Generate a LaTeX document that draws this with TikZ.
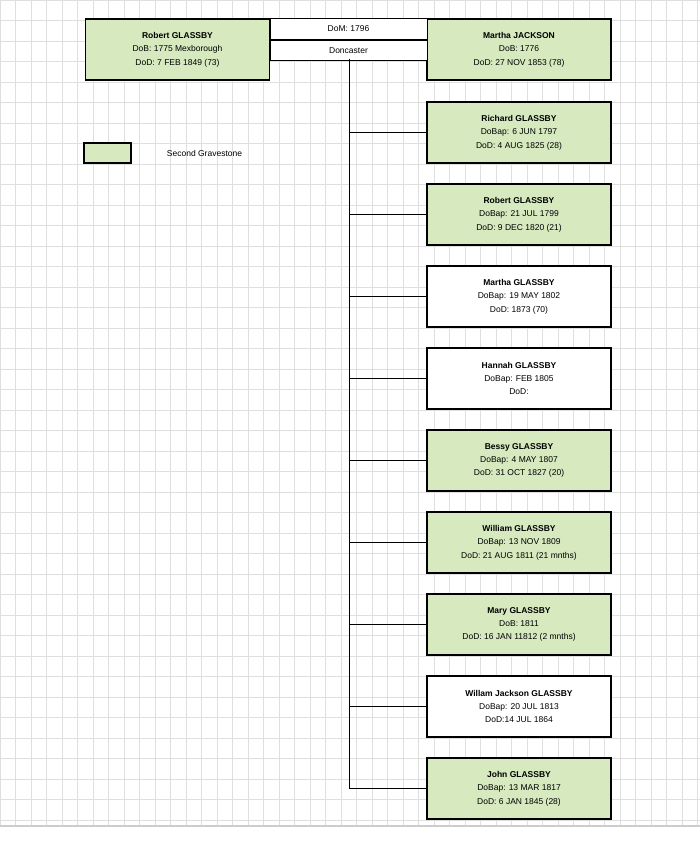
\documentclass[tikz,border=0pt]{standalone}
\usepackage{fontspec}
\setmainfont{Liberation Sans}
\begin{document}
\begin{tikzpicture}[x=1pt,y=-1pt,line width=1.2pt,
  person/.style={draw,minimum width=184pt,minimum height=61pt,inner sep=0pt,font=\fontsize{8.5}{10.3}\selectfont,align=center},
  grave/.style={person,fill=green!30!olive!25!white},
  marr/.style={draw,minimum width=157pt,minimum height=20.5pt,inner sep=0pt,font=\fontsize{8.5}{10}\selectfont}]
\useasboundingbox (0,0) rectangle (700,857);
% grid
\foreach \gx in {0,15.5,...,700} \draw[gray!25,line width=.8pt] (\gx,0) -- (\gx,825);
\foreach \gy in {0,20.5,...,825} \draw[gray!25,line width=.8pt] (0,\gy) -- (700,\gy);
\draw[gray!40,line width=2pt] (0,826) -- (700,826);
% parents
\node[grave] (father) at (177.5,49.5) {\textbf{Robert GLASSBY}\\[3pt]DoB: 1775 Mexborough\\[3pt]DoD: 7 FEB 1849 (73)};
\node[grave] (mother) at (519,49.5) {\textbf{Martha JACKSON}\\[3pt]DoB: 1776\\[3pt]DoD: 27 NOV 1853 (78)};
\node[marr,fill=white,line width=.8pt] (dom) at (348.5,29) {DoM: 1796};
\node[marr,fill=white,line width=.8pt,anchor=north] (place) at (dom.south) {Doncaster};
% legend
\node[draw,fill=green!30!olive!25!white,minimum width=47pt,minimum height=20pt,inner sep=0pt] (key) at (107.5,153) {};
\node[font=\fontsize{8.5}{10}\selectfont,anchor=west] (keytext) at (163,153) {Second Gravestone};
% children
\coordinate (trunk) at (349,59);
\foreach \i/\nm/\lb/\ld/\st in {
  1/Richard GLASSBY/DoBap: 6 JUN 1797/DoD: 4 AUG 1825 (28)/grave,
  2/Robert GLASSBY/DoBap: 21 JUL 1799/DoD: 9 DEC 1820 (21)/grave,
  3/Martha GLASSBY/DoBap: 19 MAY 1802/DoD: 1873 (70)/person,
  4/Hannah GLASSBY/DoBap: FEB 1805/DoD: /person,
  5/Bessy GLASSBY/DoBap: 4 MAY 1807/DoD: 31 OCT 1827 (20)/grave,
  6/William GLASSBY/DoBap: 13 NOV 1809/DoD: 21 AUG 1811 (21 mnths)/grave,
  7/Mary GLASSBY/DoB: 1811/DoD: 16 JAN 11812 (2 mnths)/grave,
  8/Willam Jackson GLASSBY/DoBap: 20 JUL 1813/DoD:14 JUL 1864/person,
  9/John GLASSBY/DoBap: 13 MAR 1817/DoD: 6 JAN 1845 (28)/grave}{
  \node[\st,fill=white,\st] (c\i) at (519,{50.5+82*\i}) {\textbf{\nm}\\[3pt]\lb\\[3pt]\ld};
  \coordinate (j\i) at (349,{50.5+82*\i});
  \draw[line width=.8pt] (j\i) -- (c\i.west);
}
\draw[line width=.8pt] (trunk) -- (j9);
\end{tikzpicture}
\end{document}
